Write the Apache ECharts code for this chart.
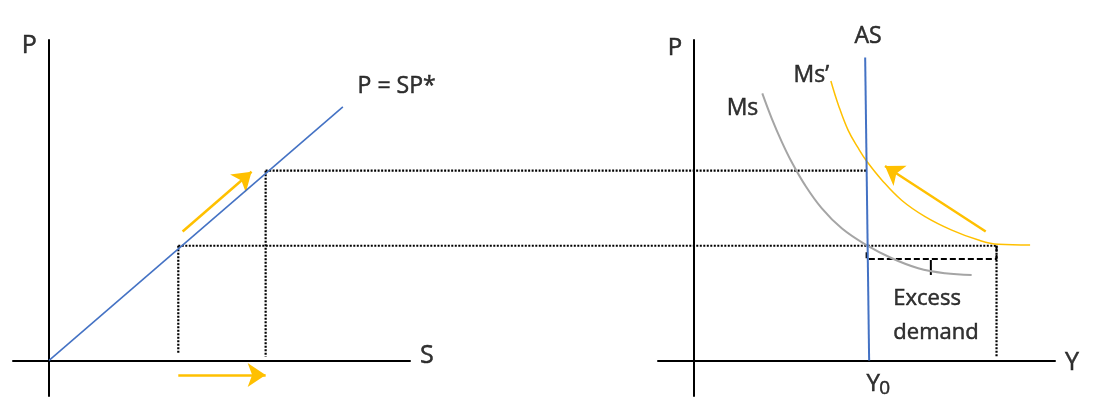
<!DOCTYPE html>
<html>
<head>
<meta charset="utf-8">
<script src="https://cdn.jsdelivr.net/npm/echarts@6/dist/echarts.min.js"></script>
<style>
  html, body { margin: 0; padding: 0; background: #fff; }
  #chart { width: 1094px; height: 418px; }
</style>
</head>
<body>
<div id="chart"></div>
<script>
// ---------------- DATA (diagram units) ----------------
// Left panel: S (x) vs P (y)
const supplyLine = [[0, 0], [8.14, 7.12]];          // P = SP*
const sLevels = [3.58, 6.0];                          // S before / after
const pLevels = [3.22, 5.33];                         // P before / after
const leftMoveArrow = [[3.70, 3.62], [5.61, 5.30]];   // along P = SP*
const sShiftArrow = [[3.58, -0.41], [6.0, -0.41]];    // S increases

// Right panel: Y (x) vs P (y)
const asLine = [[4.85, 0], [4.74, 8.51]];
const msCurve = [[1.89, 7.50], [2.15, 6.80], [2.43, 6.14], [2.70, 5.58], [3.07, 4.93], [3.54, 4.27],
                 [4.09, 3.71], [4.74, 3.26], [5.48, 2.87], [6.21, 2.59], [6.95, 2.45], [7.69, 2.40]];
const msPrimeCurve = [[3.79, 7.85], [4.00, 7.17], [4.27, 6.46], [4.55, 5.96], [4.78, 5.60], [5.20, 5.07],
                      [5.75, 4.50], [6.40, 4.04], [7.14, 3.66], [7.88, 3.38], [8.43, 3.26], [9.31, 3.24]];
const yAtAS = [4.78, 4.77];          // Y on AS at lower / upper price
const yDemand = 8.38;                // Y demanded on Ms' at lower price
const excessLevel = 2.85;            // dashed bracket level
const bracketTick = [[6.56, 2.82], [6.56, 2.40]];
const rightMoveArrow = [[8.08, 3.62], [5.29, 5.46]];

// Text annotations
const leftTexts = [
  { name: 'P', value: [-0.55, 8.84], size: 25 },
  { name: 'S', value: [10.47, 0.12], size: 25 },
  { name: 'P = SP*', value: [9.63, 7.69], size: 23 }
];
const rightTexts = [
  { name: 'P', value: [-0.53, 8.76], size: 24 },
  { name: 'AS', value: [4.82, 9.09], size: 23 },
  { name: 'Ms\u2019', value: [3.25, 8.01], size: 23 },
  { name: 'Ms', value: [1.34, 7.08], size: 23 },
  { name: 'Y', value: [10.47, -0.06], size: 25 },
  { name: 'Y', value: [4.96, -0.68], size: 24 },
  { name: '0', value: [5.28, -0.80], size: 19 },
  { name: 'Excess', value: [5.52, 1.74], size: 22, align: 'left' },
  { name: 'demand', value: [5.52, 0.78], size: 22, align: 'left' }
];

// ---------------- LAYOUT ----------------
const GRID_TOP = 40, GRID_H = 356, GRID_W = 397;
const LEFT0 = 13, LEFT1 = 658;
const X_MIN = -1, X_MAX = 10, Y_MIN = -1, Y_MAX = 9;
const unitX = GRID_W / (X_MAX - X_MIN);
const OFFSET = (LEFT1 - LEFT0) / unitX;   // right-panel origin in left-panel units
const SPAN_W = LEFT1 + GRID_W - LEFT0;    // overlay grid spanning both panels

const BLUE = '#4472C4', YELLOW = '#FFC000', GRAY = '#A5A5A5';
const FONT = 'Open Sans';
const dotted = { color: '#000', width: 2.2, type: [2, 1.5] };
const dashed = { color: '#000', width: 2, type: [6, 3] };

function axisPair(i, show) {
  const common = {
    gridIndex: i, type: 'value', show: show,
    axisLine: { show: true, onZero: true, lineStyle: { color: '#000', width: 2 } },
    axisTick: { show: false }, axisLabel: { show: false }, splitLine: { show: false }
  };
  return {
    x: Object.assign({}, common, { min: X_MIN, max: X_MAX }),
    y: Object.assign({}, common, { min: Y_MIN, max: Y_MAX })
  };
}
const a0 = axisPair(0, true), a1 = axisPair(1, true), a2 = axisPair(2, false);
a2.x.max = X_MIN + SPAN_W / unitX;

function seg(data, style, idx, extra) {
  return Object.assign({
    type: 'line', xAxisIndex: idx, yAxisIndex: idx, data: data,
    symbol: 'none', lineStyle: style, silent: true, animation: false
  }, extra || {});
}
function arrows(list, idx) {
  return {
    type: 'lines', coordinateSystem: 'cartesian2d', xAxisIndex: idx, yAxisIndex: idx,
    symbol: ['none', 'arrow'], symbolSize: 18, silent: true, animation: false,
    lineStyle: { color: YELLOW, width: 2.5, opacity: 1, curveness: 0 },
    itemStyle: { color: YELLOW },
    data: list.map(c => ({ coords: c }))
  };
}
function texts(list, idx) {
  return {
    type: 'scatter', xAxisIndex: idx, yAxisIndex: idx, symbolSize: 0, clip: false,
    silent: true, animation: false,
    label: { show: true, color: '#000' },
    data: list.map(t => ({
      name: t.name, value: t.value,
      label: {
        show: true, position: 'inside', formatter: '{b}', color: '#000',
        textBorderColor: '#000', textBorderWidth: 0.5,
        fontFamily: FONT, fontSize: t.size,
        align: t.align || 'center', verticalAlign: 'middle'
      }
    }))
  };
}

const option = {
  backgroundColor: '#fff',
  animation: false,
  grid: [
    { left: LEFT0, top: GRID_TOP, width: GRID_W, height: GRID_H },
    { left: LEFT1, top: GRID_TOP, width: GRID_W, height: GRID_H },
    { left: LEFT0, top: GRID_TOP, width: SPAN_W, height: GRID_H }
  ],
  xAxis: [a0.x, a1.x, a2.x],
  yAxis: [a0.y, a1.y, a2.y],
  series: [
    // connecting price levels across panels
    seg([[sLevels[1], pLevels[1]], [OFFSET + yAtAS[1], pLevels[1]]], dotted, 2),
    seg([[sLevels[0], pLevels[0]], [OFFSET + yDemand, pLevels[0]]], dotted, 2),
    // left panel
    seg([[sLevels[0], pLevels[0]], [sLevels[0], 0.21]], dotted, 0),
    seg([[sLevels[1], pLevels[1]], [sLevels[1], 0.10]], dotted, 0),
    seg(supplyLine, { color: BLUE, width: 1.6 }, 0),
    arrows([leftMoveArrow, sShiftArrow], 0),
    texts(leftTexts, 0),
    // right panel
    seg([[yDemand, pLevels[0]], [yDemand, 0.09]], dotted, 1),
    seg([[yAtAS[0], 3.04], [yAtAS[0], excessLevel], [yDemand, excessLevel], [yDemand, pLevels[0]]], dashed, 1),
    seg(bracketTick, { color: '#000', width: 2 }, 1),
    seg(msCurve, { color: GRAY, width: 2 }, 1, { smooth: 0.4 }),
    seg(msPrimeCurve, { color: YELLOW, width: 1.5 }, 1, { smooth: 0.4 }),
    seg(asLine, { color: BLUE, width: 2 }, 1),
    arrows([rightMoveArrow], 1),
    texts(rightTexts, 1)
  ]
};

const chart = echarts.init(document.getElementById('chart'), null, { renderer: 'canvas' });
chart.setOption(option);
</script>
</body>
</html>
